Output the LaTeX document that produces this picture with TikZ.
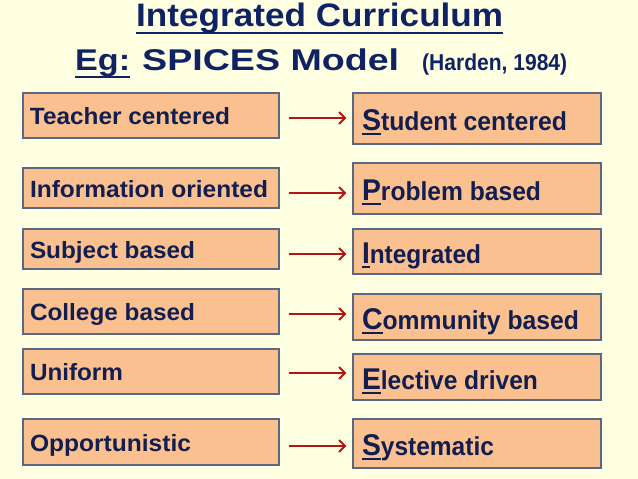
\documentclass[tikz,border=0pt]{standalone}
\usepackage{fontspec}
\setmainfont{Liberation Sans}
\usepackage{graphicx}
\usetikzlibrary{arrows.meta}
\definecolor{bgc}{RGB}{255,255,226}
\definecolor{boxfill}{RGB}{250,192,143}
\definecolor{boxline}{RGB}{90,105,130}
\definecolor{txt}{RGB}{18,30,80}
\definecolor{ttl}{RGB}{15,35,100}
\definecolor{arrc}{RGB}{180,20,20}
\newsavebox\ulbox
\newcommand\uline[3]{\sbox\ulbox{#3}\rlap{\raisebox{-#1}{\rule{\wd\ulbox}{#2}}}\usebox\ulbox}
\newcommand\fitto[2]{\resizebox{#1}{\height}{#2}}
\newcommand\ltext[2]{\makebox[256pt][l]{\hspace{7pt}\fitto{#2}{\fontsize{23.5pt}{26pt}\selectfont #1}}}
\newcommand\rtext[2]{\makebox[248pt][l]{\hspace{9pt}\fitto{#2}{\fontsize{26pt}{30pt}\selectfont #1}}}
\newcommand\firstltr[1]{\uline{4.5pt}{2pt}{\fontsize{30pt}{32pt}\selectfont #1}}
\begin{document}
\begin{tikzpicture}[x=1pt,y=-1pt,
  title/.style={text=ttl, font=\bfseries, inner sep=0pt, anchor=base west},
  lbox/.style={draw=boxline, fill=boxfill, line width=1.2pt, inner sep=0pt, text=txt,
    font=\bfseries, text height=20pt, text depth=2pt},
  rbox/.style={draw=boxline, fill=boxfill, line width=1.2pt, inner sep=0pt, text=txt,
    font=\bfseries, text height=26pt, text depth=2pt},
  arr/.style={draw=arrc, line width=1.9pt, -{Straight Barb[length=6pt,width=12pt]},
    shorten <=9pt, shorten >=6pt}]
\useasboundingbox (0,0) rectangle (638,479);
\fill[bgc] (0,0) rectangle (638,479);

\node[title] (t1) at (136,26.7) {\fitto{367pt}{\fontsize{32.5pt}{34pt}\selectfont\uline{7.1pt}{2.2pt}{Integrated Curriculum}}};
\node[title] (t2) at (75,70) {\fitto{55pt}{\fontsize{30pt}{32pt}\selectfont\uline{8.3pt}{2pt}{Eg:}}};
\node[title] (t3) at (142,70) {\fitto{257pt}{\fontsize{30pt}{32pt}\selectfont SPICES Model}};
\node[title] (t4) at (422,70) {\fitto{145pt}{\fontsize{23pt}{25pt}\selectfont (Harden, 1984)}};

\node[lbox, minimum height=45pt] (L1) at (151,115.5) {\ltext{Teacher centered}{200pt}};
\node[lbox, minimum height=40pt] (L2) at (151,188) {\ltext{Information oriented}{238pt}};
\node[lbox, minimum height=40pt] (L3) at (151,249) {\ltext{Subject based}{165pt}};
\node[lbox, minimum height=45pt] (L4) at (151,311.5) {\ltext{College based}{165pt}};
\node[lbox, minimum height=45pt] (L5) at (151,371.5) {\ltext{Uniform}{93pt}};
\node[lbox, minimum height=46pt] (L6) at (151,442) {\ltext{Opportunistic}{161pt}};

\node[rbox, minimum height=51pt] (R1) at (477,118.5) {\rtext{\firstltr{S}tudent centered}{205pt}};
\node[rbox, minimum height=51pt] (R2) at (477,188.5) {\rtext{\firstltr{P}roblem based}{179pt}};
\node[rbox, minimum height=45pt] (R3) at (477,251.5) {\rtext{\firstltr{I}ntegrated}{119pt}};
\node[rbox, minimum height=46pt] (R4) at (477,317) {\rtext{\firstltr{C}ommunity based}{217pt}};
\node[rbox, minimum height=46pt] (R5) at (477,377) {\rtext{\firstltr{E}lective driven}{176pt}};
\node[rbox, minimum height=49pt] (R6) at (477,443.5) {\rtext{\firstltr{S}ystematic}{132pt}};

\coordinate (y1) at (0,118);
\coordinate (y2) at (0,193);
\coordinate (y3) at (0,254);
\coordinate (y4) at (0,314);
\coordinate (y5) at (0,373);
\coordinate (y6) at (0,446);
\foreach \i in {1,...,6}{
  \draw[arr] (L\i.east |- y\i) -- (R\i.west |- y\i);
}
\end{tikzpicture}
\end{document}
